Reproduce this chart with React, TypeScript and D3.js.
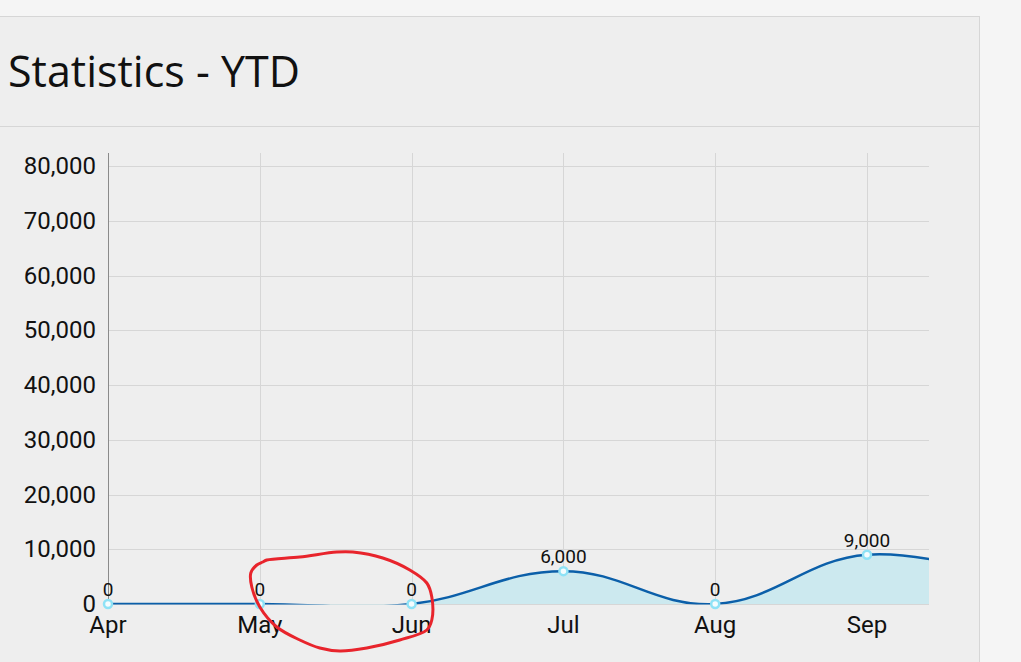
import React, { useEffect, useRef } from 'react';
import * as d3 from 'd3';

const months = ['Apr', 'May', 'Jun', 'Jul', 'Aug', 'Sep', 'Oct'];
const ytdValues = [0, 0, 0, 6000, 0, 9000, 4000];
const yTicks = [0, 10000, 20000, 30000, 40000, 50000, 60000, 70000, 80000];
const title = 'Statistics - YTD';

// hand-drawn red mark around May..Jun, offsets from (May tick, zero line)
const markOffsets: [number, number][] = [
  [3, -42], [7, -44], [40, -47], [77, -52], [93, -52], [123, -46], [150, -34],
  [167, -21], [172, -7], [172, 16], [167, 26], [140, 36], [107, 44], [80, 47],
  [60, 44], [40, 36], [17, 23], [0, 3], [-8, -17], [-9, -31], [-3, -39],
];

const App: React.FC = () => {
  const ref = useRef<SVGSVGElement>(null);

  useEffect(() => {
    document.body.style.margin = '0';
    const W = 1021;
    const H = 662;
    const svg = d3.select(ref.current);
    svg.selectAll('*').remove();
    svg.attr('width', W).attr('height', H);

    // page + card
    svg.append('rect').attr('width', W).attr('height', H).attr('fill', '#f5f5f5');
    svg
      .append('rect')
      .attr('x', -10)
      .attr('y', 16.5)
      .attr('width', 989.5)
      .attr('height', H)
      .attr('fill', '#eeeeee')
      .attr('stroke', '#d6d6d6');
    svg.append('line').attr('x1', 0).attr('x2', 979).attr('y1', 126.5).attr('y2', 126.5).attr('stroke', '#d6d6d6');
    svg
      .append('text')
      .attr('x', 8)
      .attr('y', 87)
      .attr('font-family', '"Open Sans"')
      .attr('font-size', 43)
      .attr('fill', '#111')
      .text(title);

    const left = 108;
    const top = 153;
    const bottom = 604;
    const clipRight = 929;

    const x = d3.scalePoint<string>().domain(months).range([left, left + 151.8 * (months.length - 1)]);
    const y = d3.scaleLinear().domain([0, 80000]).range([bottom, 166]);
    const visible = months.filter((m) => x(m)! <= clipRight);

    const defs = svg.append('defs');
    defs
      .append('clipPath')
      .attr('id', 'plot')
      .append('rect')
      .attr('x', left)
      .attr('y', top)
      .attr('width', clipRight - left)
      .attr('height', bottom - top + 0.5);

    const g = svg.append('g');

    // grid
    g.selectAll('.hgrid')
      .data(yTicks)
      .enter()
      .append('line')
      .attr('x1', left)
      .attr('x2', clipRight)
      .attr('y1', (d) => Math.round(y(d)) + 0.5)
      .attr('y2', (d) => Math.round(y(d)) + 0.5)
      .attr('stroke', '#d6d6d6');
    g.selectAll('.vgrid')
      .data(visible)
      .enter()
      .append('line')
      .attr('x1', (d) => Math.round(x(d)!) + 0.5)
      .attr('x2', (d) => Math.round(x(d)!) + 0.5)
      .attr('y1', top)
      .attr('y2', bottom)
      .attr('stroke', (d, i) => (i === 0 ? '#8a8a8a' : '#d6d6d6'));

    // y labels
    svg
      .selectAll('.ylab')
      .data(yTicks)
      .enter()
      .append('text')
      .attr('x', 96)
      .attr('y', (d) => y(d) + 8)
      .attr('text-anchor', 'end')
      .attr('font-family', 'Roboto')
      .attr('font-size', 24)
      .attr('fill', '#111')
      .text((d) => d3.format(',')(d));

    // x labels
    g.selectAll('.xlab')
      .data(visible)
      .enter()
      .append('text')
      .attr('x', (d) => x(d)!)
      .attr('y', 633)
      .attr('text-anchor', 'middle')
      .attr('font-family', 'Roboto')
      .attr('font-size', 24)
      .attr('fill', '#111')
      .text((d) => d);

    const pts = months.map((m, i) => ({ m, v: ytdValues[i] }));
    const curve = d3.curveCardinal.tension(-0.2);
    const area = d3
      .area<{ m: string; v: number }>()
      .x((d) => x(d.m)!)
      .y0(bottom)
      .y1((d) => y(d.v))
      .curve(curve);
    const line = d3
      .line<{ m: string; v: number }>()
      .x((d) => x(d.m)!)
      .y((d) => y(d.v))
      .curve(curve);

    const plot = svg.append('g').attr('clip-path', 'url(#plot)');
    plot.append('path').datum(pts).attr('d', area).attr('fill', '#cce9ef');
    plot
      .append('path')
      .datum(pts)
      .attr('d', line)
      .attr('fill', 'none')
      .attr('stroke', '#0b5fa9')
      .attr('stroke-width', 2.5);

    // points + value labels (on top of the line)
    const shown = pts.filter((d) => x(d.m)! <= clipRight);
    const pg = svg.append('g');
    pg.selectAll('circle')
      .data(shown)
      .enter()
      .append('circle')
      .attr('cx', (d) => x(d.m)!)
      .attr('cy', (d) => y(d.v))
      .attr('r', 4)
      .attr('fill', '#f4fcfe')
      .attr('stroke', '#8ee2f6')
      .attr('stroke-width', 2.5);
    pg.selectAll('text')
      .data(shown)
      .enter()
      .append('text')
      .attr('x', (d) => x(d.m)!)
      .attr('y', (d) => y(d.v) - 8)
      .attr('text-anchor', 'middle')
      .attr('font-family', 'Roboto')
      .attr('font-size', 19)
      .attr('fill', '#111')
      .text((d) => d3.format(',')(d.v));

    // red annotation
    const mx = x('May')!;
    const annot = d3
      .line<[number, number]>()
      .x((d) => mx + d[0])
      .y((d) => bottom + d[1])
      .curve(d3.curveCatmullRomClosed);
    svg
      .append('path')
      .datum(markOffsets)
      .attr('d', annot)
      .attr('fill', 'none')
      .attr('stroke', '#e8242c')
      .attr('stroke-width', 3);
  }, []);

  return <svg ref={ref} style={{ display: 'block', position: 'absolute', left: 0, top: 0 }} />;
};

export default App;
